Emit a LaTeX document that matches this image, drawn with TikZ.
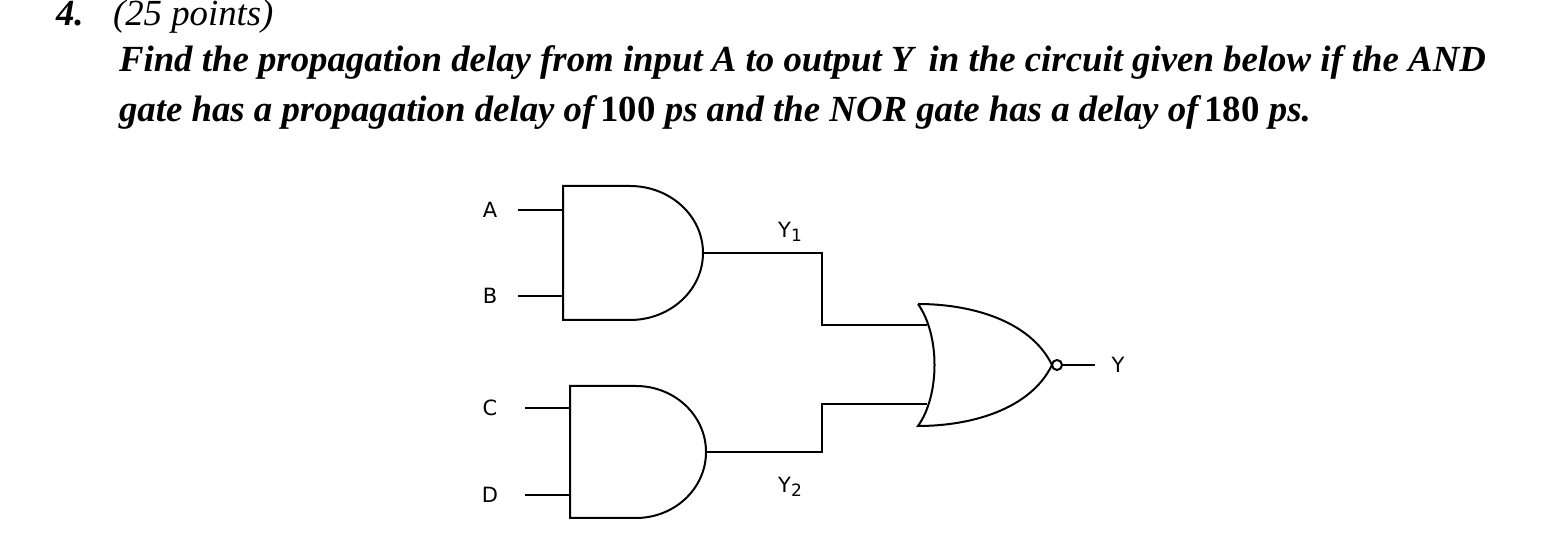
\documentclass[tikz,border=0pt]{standalone}
\usepackage{fontspec}
\setmainfont{Liberation Serif}
\newfontfamily\lab{DejaVu Sans}
\begin{document}
\begin{tikzpicture}[x=0.5pt,y=-0.5pt,line width=1pt,
  lbl/.style={font=\lab\fontsize{10.5}{12}\selectfont,inner sep=0},
  txt/.style={anchor=base west,inner sep=0,font=\fontsize{18.4}{20}\selectfont\itshape}]
\useasboundingbox (0,0) rectangle (1542,560);
\node[txt] (n4) at (55,26) {\bfseries 4.};
\node[txt] (pt) at (112,26) {(25 points)};
\node[txt] (l1) at (118,72) {\bfseries Find the propagation delay from input A to output Y\, in the circuit given below if the AND};
\node[txt] (l2) at (118,122) {\bfseries gate has a propagation delay of\,\upshape 100 \itshape ps and the NOR gate has a delay of\,\upshape 180 \itshape ps.};
% AND1
\draw (563,320) -- (563,186) -- (630,186) arc (-90:90:73 and 67) -- cycle;
% AND2
\draw (570,518) -- (570,386) -- (636,386) arc (-90:90:70 and 66) -- cycle;
% NOR
\draw (918,304) .. controls (940,335) and (940,395) .. (918,426)
  .. controls (970,426) and (1030,410) .. (1052,365)
  .. controls (1030,320) and (970,304) .. (918,304);
\node[circle,draw,minimum size=5pt,inner sep=0] (bub) at (1057,365) {};
\coordinate (yo) at (1095,365);
\draw (bub) -- (yo);
% inputs
\node[lbl] (A) at (490,210) {A}; \draw (518,210) -- (563,210);
\node[lbl] (B) at (490,296) {B}; \draw (518,296) -- (563,296);
\node[lbl] (C) at (490,408) {C}; \draw (525,408) -- (570,408);
\node[lbl] (D) at (490,495) {D}; \draw (525,495) -- (570,495);
\node[lbl] (Y) at (1118,365) {Y};
% wires
\draw (703,253) -- (822,253) -- (822,325) -- (927,325);
\draw (706,452) -- (822,452) -- (822,404) -- (927,404);
\node[lbl] (Y1) at (790,232) {Y\raisebox{-2pt}{\fontsize{8.5}{9}\selectfont 1}};
\node[lbl] (Y2) at (790,487) {Y\raisebox{-2pt}{\fontsize{8.5}{9}\selectfont 2}};
\end{tikzpicture}
\end{document}
